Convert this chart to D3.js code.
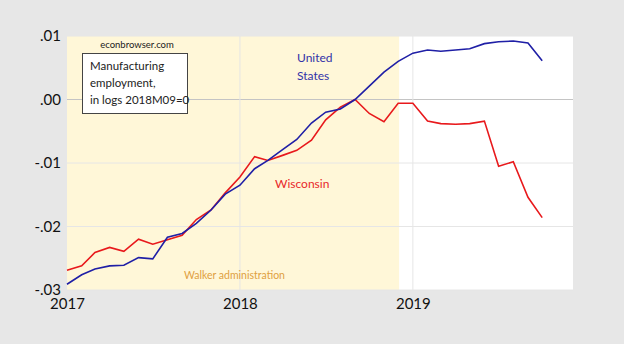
<!DOCTYPE html>
<html>
<head>
<meta charset="utf-8">
<script src="https://cdn.jsdelivr.net/npm/d3@7"></script>
<style>
  body { margin: 0; background: #e7e7e7; }
  svg { display: block; font-family: Lato, "Liberation Sans", sans-serif; }
</style>
</head>
<body>
<svg width="624" height="344"></svg>
<script>
// monthly, 2017M01 .. 2019M10, log manufacturing employment, 2018M09 = 0
let months = d3.range(34).map(i => new Date(2017, i, 1))

let usValues = [
  -0.0291, -0.0276, -0.0267, -0.0262, -0.0261, -0.0249, -0.0251, -0.0217, -0.0211, -0.0195,
  -0.0174, -0.0149, -0.0135, -0.0109, -0.0096, -0.0079, -0.0063, -0.0037, -0.0020, -0.0015,
   0.0000,  0.0021,  0.0043,  0.0060,  0.0073,  0.0078,  0.0076,  0.0078,  0.0080,  0.0088,
   0.0091,  0.0092,  0.0089,  0.0061
]

let wiValues = [
  -0.0269, -0.0262, -0.0241, -0.0233, -0.0239, -0.0220, -0.0228, -0.0221, -0.0214, -0.0189,
  -0.0174, -0.0147, -0.0122, -0.0090, -0.0096, -0.0088, -0.0080, -0.0064, -0.0032, -0.0012,
   0.0000, -0.0022, -0.0035, -0.0006, -0.0006, -0.0034, -0.0038, -0.0039, -0.0038, -0.0034,
  -0.0105, -0.0098, -0.0154, -0.0186
]

let yTicks = [0.01, 0, -0.01, -0.02, -0.03]
let yTickLabels = [".01", ".00", "-.01", "-.02", "-.03"]
let xTicks = [new Date(2017, 0, 1), new Date(2018, 0, 1), new Date(2019, 0, 1)]
let xTickLabels = ["2017", "2018", "2019"]
let walkerStart = new Date(2017, 0, 1)
let walkerEnd = new Date(2018, 11, 3)
let boxLines = ["Manufacturing", "employment,", "in logs 2018M09=0"]

var svg = d3.select("svg"),
  width = +svg.attr("width"),
  height = +svg.attr("height");

let plotLeft = 67, plotRight = 573, plotTop = 36, plotBottom = 290

let x = d3.scaleTime()
  .domain([new Date(2017, 0, 1), new Date(2019, 11, 5)])
  .range([plotLeft, plotRight])

let y = d3.scaleLinear()
  .domain([-0.03, 0.01])
  .range([plotBottom, plotTop])

svg.append("rect")
  .attr("width", width).attr("height", height)
  .attr("fill", "#e7e7e7")

svg.append("rect")
  .attr("x", plotLeft).attr("y", plotTop)
  .attr("width", plotRight - plotLeft).attr("height", plotBottom - plotTop)
  .attr("fill", "#ffffff")

// Walker shading
svg.append("rect")
  .attr("x", x(walkerStart)).attr("y", plotTop)
  .attr("width", x(walkerEnd) - x(walkerStart)).attr("height", plotBottom - plotTop)
  .attr("fill", "#fff7d8")

// grid
svg.append("g")
  .selectAll("line")
  .data(yTicks)
  .enter()
  .append("line")
  .attr("x1", plotLeft).attr("x2", plotRight)
  .attr("y1", d => y(d)).attr("y2", d => y(d))
  .attr("stroke", d => d === 0 ? "#c4c4c4" : "#e6e6e6")
  .attr("stroke-width", 1)

svg.append("g")
  .selectAll("line")
  .data(xTicks.slice(1))
  .enter()
  .append("line")
  .attr("x1", d => x(d)).attr("x2", d => x(d))
  .attr("y1", plotTop).attr("y2", plotBottom)
  .attr("stroke", "#e6e6e6")
  .attr("stroke-width", 1)

// axes, labels only
let yAxis = svg.append("g")
  .attr("transform", `translate(${plotLeft},0)`)
  .call(d3.axisLeft(y).tickValues(yTicks).tickSize(0).tickPadding(6)
    .tickFormat((d, i) => yTickLabels[i]))
yAxis.select(".domain").remove()
yAxis.selectAll("text")
  .attr("font-size", 15).attr("fill", "#111")
  .style("font-family", "Lato, 'Liberation Sans', sans-serif")

let xAxis = svg.append("g")
  .attr("transform", `translate(0,${plotBottom})`)
  .call(d3.axisBottom(x).tickValues(xTicks).tickSize(0).tickPadding(8)
    .tickFormat((d, i) => xTickLabels[i]))
xAxis.select(".domain").remove()
xAxis.selectAll("text")
  .attr("font-size", 15).attr("fill", "#111")
  .style("font-family", "Lato, 'Liberation Sans', sans-serif")

// lines
let line = d3.line()
  .x((d, i) => x(months[i]))
  .y(d => y(d))

svg.append("path")
  .datum(wiValues)
  .attr("d", line)
  .attr("fill", "none")
  .attr("stroke", "#e8191c")
  .attr("stroke-width", 1.6)

svg.append("path")
  .datum(usValues)
  .attr("d", line)
  .attr("fill", "none")
  .attr("stroke", "#1f1fa6")
  .attr("stroke-width", 1.6)

// annotations
svg.append("text")
  .attr("x", 137).attr("y", 48)
  .attr("text-anchor", "middle")
  .attr("font-size", 9.5).attr("fill", "#222")
  .text("econbrowser.com")

svg.append("rect")
  .attr("x", 82.5).attr("y", 53.5)
  .attr("width", 105).attr("height", 60)
  .attr("fill", "#fff").attr("stroke", "#444").attr("stroke-width", 1)

svg.append("g")
  .selectAll("text")
  .data(boxLines)
  .enter()
  .append("text")
  .attr("x", 90)
  .attr("y", (d, i) => 70 + i * 17)
  .attr("font-size", 11.5).attr("fill", "#222")
  .text(d => d)

svg.append("text")
  .attr("x", 297).attr("y", 62)
  .attr("font-size", 12).attr("fill", "#3232a8")
  .text("United")
svg.append("text")
  .attr("x", 297).attr("y", 80)
  .attr("font-size", 12).attr("fill", "#3232a8")
  .text("States")

svg.append("text")
  .attr("x", 275).attr("y", 188)
  .attr("font-size", 12).attr("fill", "#e8282a")
  .text("Wisconsin")

svg.append("text")
  .attr("x", 184).attr("y", 279)
  .attr("font-size", 10.5).attr("fill", "#e0a040")
  .text("Walker administration")
</script>
</body>
</html>
